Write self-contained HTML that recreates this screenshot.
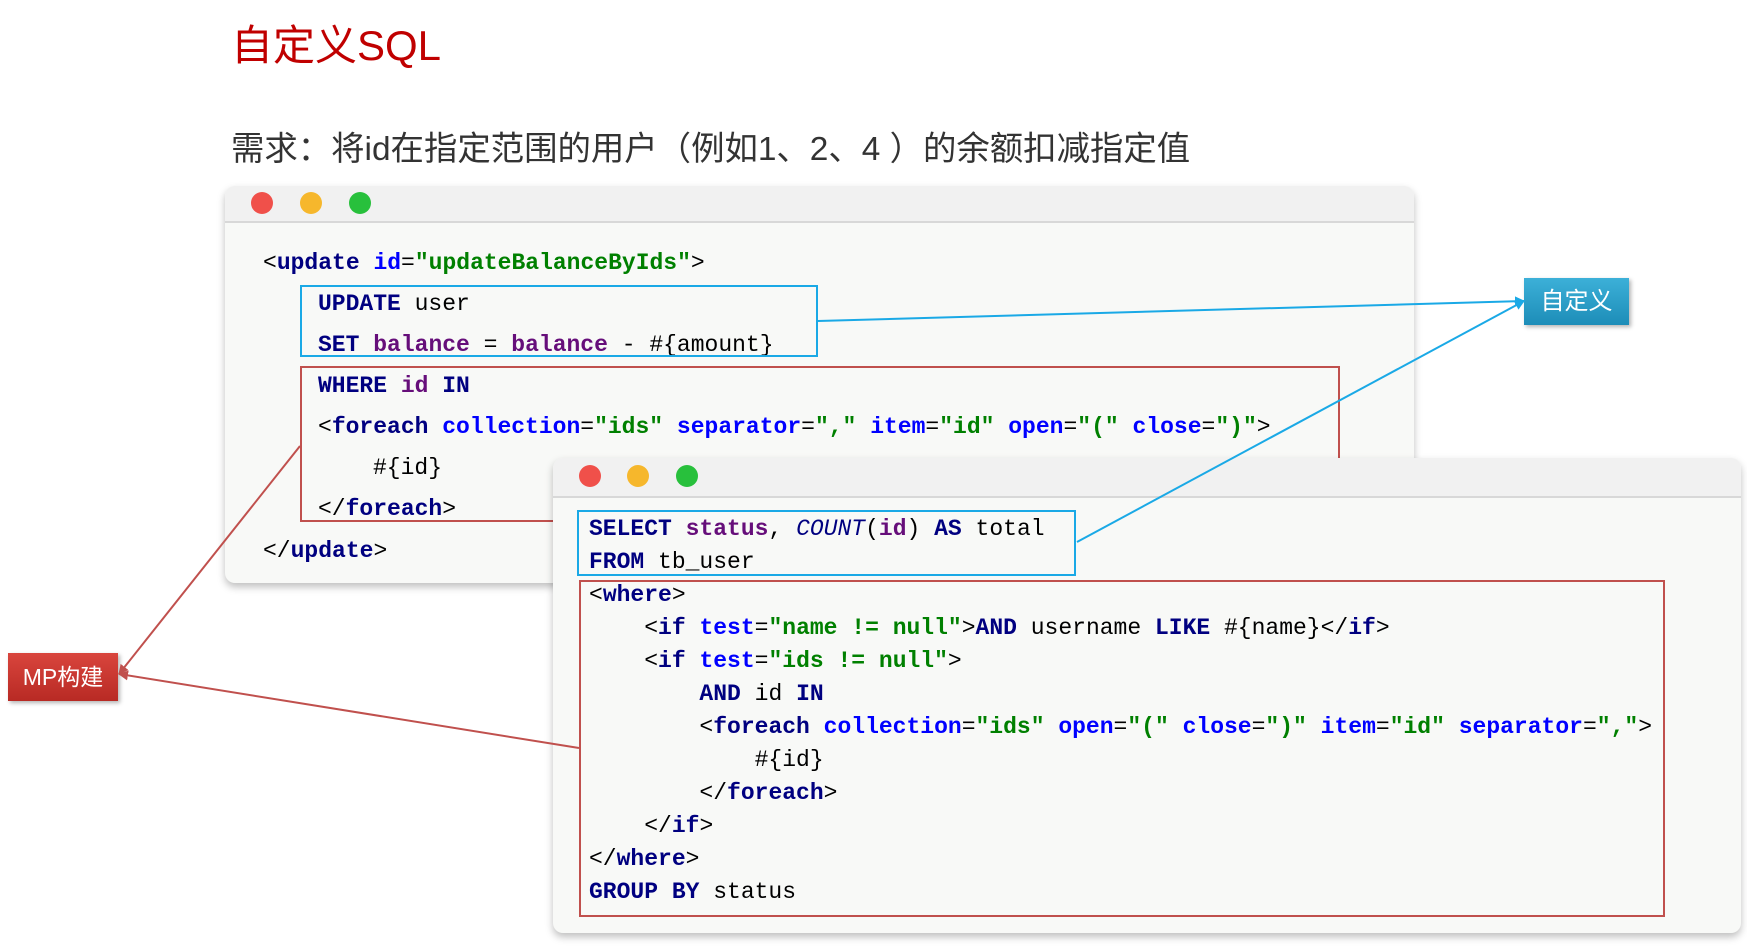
<!DOCTYPE html>
<html><head><meta charset="utf-8"><style>
*{margin:0;padding:0;box-sizing:border-box}
body{width:1747px;height:946px;background:#fff;position:relative;overflow:hidden;font-family:"Liberation Sans","Noto Sans CJK SC",sans-serif}
.abs{position:absolute}
.win{position:absolute;background:#f8f9f7;border-radius:10px;box-shadow:0 4px 8px rgba(0,0,0,.25);overflow:hidden}
.hdr{position:absolute;left:0;top:0;right:0;background:#f1f1f1;border-bottom:2px solid #d8d8d8}
.dot{position:absolute;width:22px;height:22px;border-radius:50%}
.code{position:absolute;font-family:"Liberation Mono",monospace;font-size:23px;white-space:pre;color:#000;line-height:1}
.k{color:#000080;font-weight:bold}.a{color:#0000ff;font-weight:bold}.s{color:#008000;font-weight:bold}.p{color:#660e7a;font-weight:bold}.i{color:#000080;font-style:italic}
.box{position:absolute;border:2px solid}
</style></head><body>
<div class="abs" style="left:231px;top:12px;font-size:42px;color:#c00000">自定义SQL</div>
<div class="abs" style="left:231px;top:121px;font-size:33.4px;color:#333">需求：将id在指定范围的用户（例如1、2、4 ）的余额扣减指定值</div>

<div class="win" style="left:225px;top:186px;width:1189px;height:397px">
<div class="hdr" style="height:37px"></div>
<div class="dot" style="left:26px;top:6px;background:#f0504a"></div>
<div class="dot" style="left:75px;top:6px;background:#f6b72c"></div>
<div class="dot" style="left:124px;top:6px;background:#28c03c"></div>
</div>
<div class="code" style="left:263px;top:252px">&lt;<span class="k">update </span><span class="a">id</span>=<span class="s">"updateBalanceByIds"</span>&gt;</div>
<div class="code" style="left:318px;top:293px"><span class="k">UPDATE</span> user</div>
<div class="code" style="left:318px;top:334px"><span class="k">SET</span> <span class="p">balance</span> = <span class="p">balance</span> - #{amount}</div>
<div class="code" style="left:318px;top:375px"><span class="k">WHERE</span> <span class="p">id</span> <span class="k">IN</span></div>
<div class="code" style="left:318px;top:416px">&lt;<span class="k">foreach </span><span class="a">collection</span>=<span class="s">"ids"</span> <span class="a">separator</span>=<span class="s">","</span> <span class="a">item</span>=<span class="s">"id"</span> <span class="a">open</span>=<span class="s">"("</span> <span class="a">close</span>=<span class="s">")"</span>&gt;</div>
<div class="code" style="left:373px;top:457px">#{id}</div>
<div class="code" style="left:318px;top:498px">&lt;/<span class="k">foreach</span>&gt;</div>
<div class="code" style="left:263px;top:540px">&lt;/<span class="k">update</span>&gt;</div>
<div class="box" style="left:300px;top:285px;width:518px;height:72px;border-color:#1aa9e6"></div>
<div class="box" style="left:300px;top:366px;width:1040px;height:156px;border-color:#c0504d"></div>

<div class="win" style="left:553px;top:458px;width:1188px;height:475px">
<div class="hdr" style="height:40px"></div>
<div class="dot" style="left:26px;top:7px;background:#f0504a"></div>
<div class="dot" style="left:74px;top:7px;background:#f6b72c"></div>
<div class="dot" style="left:123px;top:7px;background:#28c03c"></div>
</div>
<div class="code" style="left:589px;top:518px"><span class="k">SELECT</span> <span class="p">status</span>, <span class="i">COUNT</span>(<span class="p">id</span>) <span class="k">AS</span> total</div>
<div class="code" style="left:589px;top:551px"><span class="k">FROM</span> tb_user</div>
<div class="code" style="left:589px;top:584px">&lt;<span class="k">where</span>&gt;</div>
<div class="code" style="left:589px;top:617px">    &lt;<span class="k">if </span><span class="a">test</span>=<span class="s">"name != null"</span>&gt;<span class="k">AND</span> username <span class="k">LIKE</span> #{name}&lt;/<span class="k">if</span>&gt;</div>
<div class="code" style="left:589px;top:650px">    &lt;<span class="k">if </span><span class="a">test</span>=<span class="s">"ids != null"</span>&gt;</div>
<div class="code" style="left:589px;top:683px">        <span class="k">AND</span> id <span class="k">IN</span></div>
<div class="code" style="left:589px;top:716px">        &lt;<span class="k">foreach </span><span class="a">collection</span>=<span class="s">"ids"</span> <span class="a">open</span>=<span class="s">"("</span> <span class="a">close</span>=<span class="s">")"</span> <span class="a">item</span>=<span class="s">"id"</span> <span class="a">separator</span>=<span class="s">","</span>&gt;</div>
<div class="code" style="left:589px;top:749px">            #{id}</div>
<div class="code" style="left:589px;top:782px">        &lt;/<span class="k">foreach</span>&gt;</div>
<div class="code" style="left:589px;top:815px">    &lt;/<span class="k">if</span>&gt;</div>
<div class="code" style="left:589px;top:848px">&lt;/<span class="k">where</span>&gt;</div>
<div class="code" style="left:589px;top:881px"><span class="k">GROUP BY</span> status</div>
<div class="box" style="left:577px;top:510px;width:499px;height:66px;border-color:#1aa9e6"></div>
<div class="box" style="left:579px;top:580px;width:1086px;height:337px;border-color:#c0504d"></div>

<div class="abs" style="left:1524px;top:278px;width:105px;height:47px;background:linear-gradient(#3cb0d8,#1d8db8);color:#fff;font-size:24px;text-align:center;line-height:47px;box-shadow:2px 2px 4px rgba(0,0,0,.3)">自定义</div>
<div class="abs" style="left:8px;top:653px;width:110px;height:48px;background:linear-gradient(#d9453d,#b82a24);color:#fff;font-size:23px;text-align:center;line-height:48px;box-shadow:2px 2px 4px rgba(0,0,0,.3)">MP构建</div>

<svg class="abs" style="left:0;top:0" width="1747" height="946">
<defs>
<marker id="bl" markerWidth="10" markerHeight="10" refX="9" refY="5" orient="auto" markerUnits="userSpaceOnUse"><path d="M0,0L10,5L0,10z" fill="#1aa9e6"/></marker>
<marker id="rd" markerWidth="10" markerHeight="10" refX="9" refY="5" orient="auto" markerUnits="userSpaceOnUse"><path d="M0,0L10,5L0,10z" fill="#c0504d"/></marker>
</defs>
<line x1="818" y1="321" x2="1524" y2="301" stroke="#1aa9e6" stroke-width="2" marker-end="url(#bl)"/>
<line x1="1077" y1="542" x2="1524" y2="301" stroke="#1aa9e6" stroke-width="2" marker-end="url(#bl)"/>
<line x1="300" y1="446" x2="119" y2="674" stroke="#c0504d" stroke-width="2" marker-end="url(#rd)"/>
<line x1="579" y1="748" x2="119" y2="674" stroke="#c0504d" stroke-width="2" marker-end="url(#rd)"/>
</svg>
</body></html>
